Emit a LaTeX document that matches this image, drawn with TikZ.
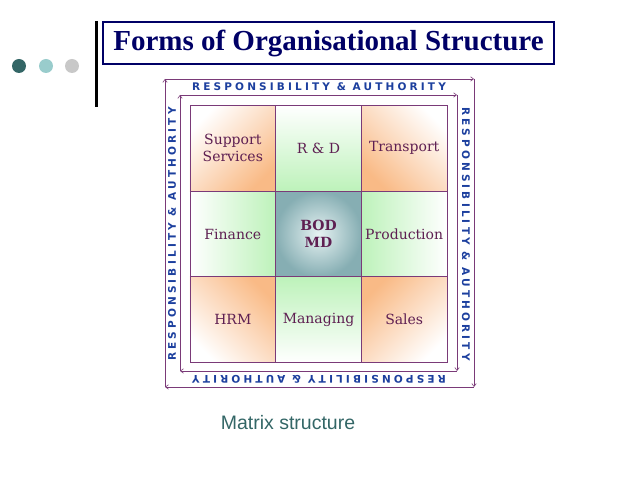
\documentclass[tikz,border=0pt]{standalone}
\usepackage{fontspec}
\setsansfont{Liberation Sans}
\newfontfamily\cellfont{DejaVu Serif}
\newfontfamily\titlefont{Liberation Serif}
\newfontfamily\framefont[LetterSpace=30]{DejaVu Sans}
\usepackage{tikz}
\usetikzlibrary{positioning, arrows.meta}
\definecolor{TitleNavy}{HTML}{000066}
\definecolor{GridPurple}{HTML}{7A3A78}
\definecolor{CellText}{HTML}{5E1F52}
\definecolor{FrameBlue}{HTML}{1C3F9E}
\definecolor{Peach}{HTML}{F9BA86}
\definecolor{MintGreen}{HTML}{BDF2BA}
\definecolor{CoreOuter}{HTML}{86AEB3}
\definecolor{CoreInner}{HTML}{E6F2F2}
\definecolor{CaptionTeal}{HTML}{336666}
\definecolor{DotDark}{HTML}{336666}
\definecolor{DotLight}{HTML}{99CCCC}
\definecolor{DotGrey}{HTML}{C8C8C8}

\begin{document}
\begin{tikzpicture}[x=1pt, y=-1pt, node distance=0pt, >={Straight Barb[length=3pt, width=4.5pt]}]
    \tikzstyle{cell} = [rectangle, draw=GridPurple, line width=0.8pt, minimum size=85.7pt, outer sep=0pt, inner sep=2pt, align=center, text=CellText, font=\cellfont\fontsize{14}{17}\selectfont]
    \tikzstyle{framelabel} = [text=FrameBlue, inner sep=0pt, font=\framefont\bfseries\fontsize{10.5}{11}\selectfont]
    \tikzstyle{frame} = [draw=GridPurple, line width=0.6pt, ->]
    \tikzstyle{dot} = [circle, minimum size=14pt, inner sep=0pt]
    \useasboundingbox (0,0) rectangle (638,478);

    \node [dot, fill=DotDark] (dotA) at (19,66) {};
    \node [dot, fill=DotLight] (dotB) at (46,66) {};
    \node [dot, fill=DotGrey] (dotC) at (72,66) {};
    \draw [line width=3pt] (96,21) -- (96,107);
    \node [draw=TitleNavy, line width=1.8pt, minimum width=451pt, minimum height=42pt, text=TitleNavy, font=\titlefont\bfseries\fontsize{29}{32}\selectfont] (title) at (328.5,43) {Forms of Organisational Structure};

    \node [cell, inner color=CoreInner, outer color=CoreOuter, font=\cellfont\bfseries\fontsize{14}{17}\selectfont] (core) at (318.5,234) {BOD\\MD};
    \node [cell, above=of core, top color=white, bottom color=MintGreen] (rnd) {R \& D};
    \node [cell, below=of core, top color=MintGreen, bottom color=white] (managing) {Managing};
    \node [cell, left=of core, left color=white, right color=MintGreen] (finance) {Finance};
    \node [cell, right=of core, left color=MintGreen, right color=white] (production) {Production};
    \node [cell, left=of rnd, top color=white, bottom color=Peach, shading angle=45] (support) {Support\\Services};
    \node [cell, right=of rnd, top color=white, bottom color=Peach, shading angle=-45] (transport) {Transport};
    \node [cell, left=of managing, top color=Peach, bottom color=white, shading angle=-45] (hrm) {HRM};
    \node [cell, right=of managing, top color=Peach, bottom color=white, shading angle=45] (sales) {Sales};

    % two frames of arrows round the grid
    \coordinate (otl) at (165,79);  \coordinate (otr) at (474,79);
    \coordinate (obr) at (474,387); \coordinate (obl) at (165,387);
    \coordinate (itl) at (180,95);  \coordinate (itr) at (457,95);
    \coordinate (ibr) at (457,371); \coordinate (ibl) at (180,371);
    \foreach \f in {o,i} {
        \draw [frame] (\f bl) -- (\f tl);
        \draw [frame] (\f tl) -- (\f tr);
        \draw [frame] (\f tr) -- (\f br);
        \draw [frame] (\f br) -- (\f bl);
    }

    \node [framelabel] (toplabel) at (319,87) {RESPONSIBILITY \& AUTHORITY};
    \node [framelabel, rotate=-90] (rightlabel) at (466,234) {RESPONSIBILITY \& AUTHORITY};
    \node [framelabel, rotate=180] (bottomlabel) at (319,379) {RESPONSIBILITY \& AUTHORITY};
    \node [framelabel, rotate=90] (leftlabel) at (172,234) {RESPONSIBILITY \& AUTHORITY};

    \node [text=CaptionTeal, font=\sffamily\fontsize{19.5}{22}\selectfont] (caption) at (288,423) {Matrix structure};
\end{tikzpicture}
\end{document}
